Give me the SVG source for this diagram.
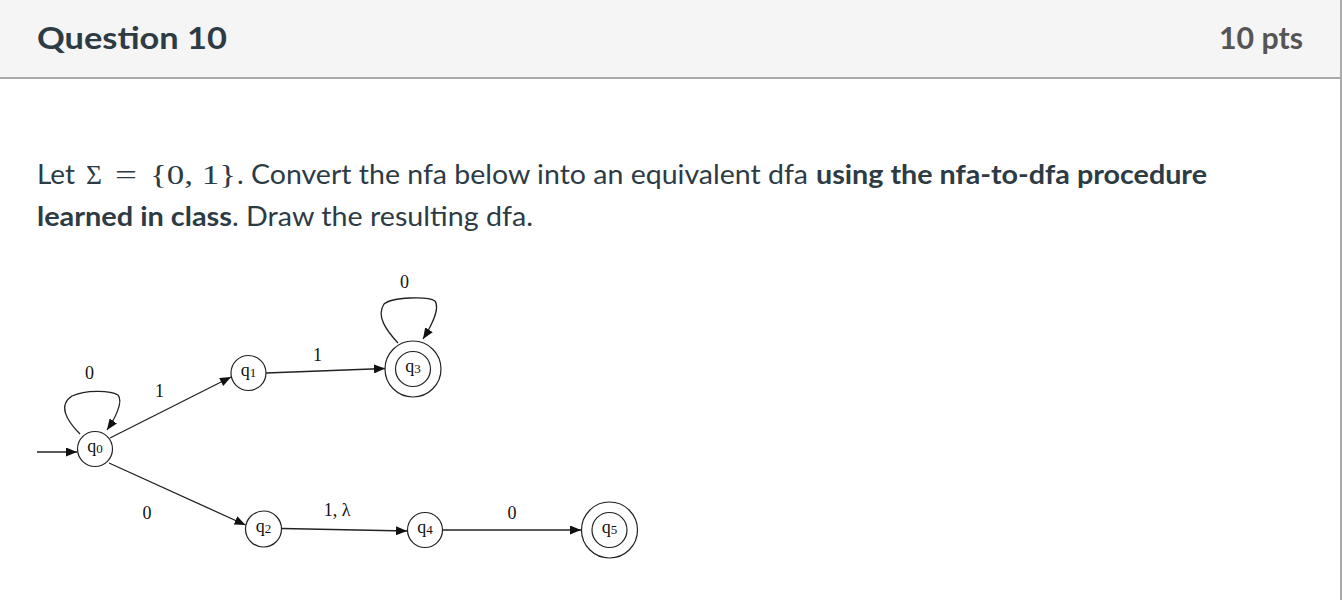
<svg xmlns="http://www.w3.org/2000/svg" width="1342" height="600" viewBox="0 0 1342 600">
<defs>
<marker id="arr" markerUnits="userSpaceOnUse" markerWidth="12" markerHeight="9" refX="11" refY="4.5" orient="auto">
<path d="M0,0 L11,4.5 L0,9 z" fill="#111"/>
</marker>
<style>
.hdr{font-family:Lato,"Open Sans",sans-serif;font-weight:700}
.body{font-family:Lato,"Open Sans",sans-serif;font-size:27px;fill:#2d3b45}
.b{font-weight:700}
.math{font-family:"Liberation Serif","DejaVu Serif",serif;font-size:28px;fill:#2d3b45}
.st{fill:#fff;stroke:#222;stroke-width:1.2}
.edge{fill:none;stroke:#222;stroke-width:1.3;marker-end:url(#arr)}
.lbl{font-family:"Liberation Serif","DejaVu Serif",serif;font-size:18px;fill:#111;text-anchor:middle}
.sub{font-size:13px}
</style>
</defs>
<rect x="0" y="0" width="1342" height="600" fill="#fff"/>
<rect x="0" y="0" width="1342" height="78" fill="#f5f5f5"/>
<rect x="0" y="77" width="1342" height="2" fill="#aaaaaa"/>
<rect x="1340" y="0" width="2" height="600" fill="#aaaaaa"/>
<text class="hdr" x="37" y="49" font-size="31" fill="#2d3b45" textLength="190" lengthAdjust="spacingAndGlyphs">Question 10</text>
<text class="hdr" x="1219" y="49" font-size="30" fill="#555" textLength="84" lengthAdjust="spacingAndGlyphs">10 pts</text>
<text class="body" x="37" y="184" textLength="38" lengthAdjust="spacingAndGlyphs">Let</text>
<text class="math" x="86" y="184" textLength="16" lengthAdjust="spacingAndGlyphs">Σ</text>
<text class="math" x="115" y="184" textLength="22" lengthAdjust="spacingAndGlyphs">=</text>
<text class="math" x="150" y="184" textLength="86" lengthAdjust="spacingAndGlyphs">{0, 1}</text>
<text class="body" x="237" y="184" textLength="571" lengthAdjust="spacingAndGlyphs">. Convert the nfa below into an equivalent dfa</text>
<text class="body b" x="816" y="184" textLength="391" lengthAdjust="spacingAndGlyphs">using the nfa-to-dfa procedure</text>
<text class="body b" x="37" y="226" textLength="195" lengthAdjust="spacingAndGlyphs">learned in class</text>
<text class="body" x="232" y="226" textLength="301" lengthAdjust="spacingAndGlyphs">. Draw the resulting dfa.</text>
<g id="connectors">
<line class="edge" x1="37" y1="452" x2="77" y2="452"/>
<path class="edge" d="M80,434 C66,420 58,405 72,396 C85,390 110,390 118,395 C124,402 114,420 107,430"/>
<line class="edge" x1="110" y1="438" x2="231" y2="377"/>
<line class="edge" x1="109" y1="463" x2="245.5" y2="525"/>
<line class="edge" x1="266" y1="373" x2="385" y2="368.5"/>
<path class="edge" d="M398,343 C386,330 376,316 384,304 C392,297 428,296 435,301 C440,308 432,325 423,339"/>
<line class="edge" x1="282" y1="528.5" x2="407" y2="531"/>
<line class="edge" x1="443" y1="530" x2="581" y2="530"/>
<text class="lbl" x="89.5" y="379">0</text>
<text class="lbl" x="159.5" y="397">1</text>
<text class="lbl" x="317.5" y="361">1</text>
<text class="lbl" x="404.5" y="288">0</text>
<text class="lbl" x="147" y="519">0</text>
<text class="lbl" x="337" y="516">1, λ</text>
<text class="lbl" x="512" y="519">0</text>
</g>
<g id="q0"><circle class="st" cx="95" cy="449" r="17.5"/><text class="lbl" x="95" y="452">q<tspan class="sub" dy="1">0</tspan></text></g>
<g id="q1"><circle class="st" cx="248.5" cy="373" r="17.5"/><text class="lbl" x="248.5" y="376">q<tspan class="sub" dy="1">1</tspan></text></g>
<g id="q2"><circle class="st" cx="263.5" cy="529" r="18"/><text class="lbl" x="263.5" y="532">q<tspan class="sub" dy="1">2</tspan></text></g>
<g id="q3"><circle class="st" cx="413" cy="369" r="28"/><circle class="st" cx="413" cy="369" r="17.5"/><text class="lbl" x="413" y="372">q<tspan class="sub" dy="1">3</tspan></text></g>
<g id="q4"><circle class="st" cx="425" cy="530" r="17.5"/><text class="lbl" x="425" y="533">q<tspan class="sub" dy="1">4</tspan></text></g>
<g id="q5"><circle class="st" cx="609.5" cy="530" r="28"/><circle class="st" cx="609.5" cy="530" r="17.5"/><text class="lbl" x="609.5" y="533">q<tspan class="sub" dy="1">5</tspan></text></g>
</svg>
